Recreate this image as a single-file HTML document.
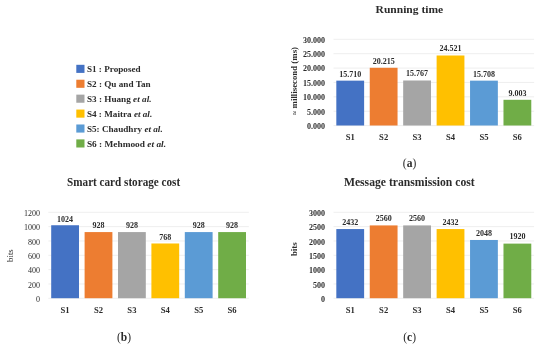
<!DOCTYPE html>
<html><head><meta charset="utf-8"><style>
html,body{margin:0;padding:0;background:#fff;}
svg{display:block;filter:blur(0.3px);}
text{font-family:"Liberation Serif",serif;fill:#2b2b2b;}
</style></head><body>
<svg width="550" height="346" viewBox="0 0 550 346">
<rect width="550" height="346" fill="#fff"/>
<line x1="333.5" y1="125.60" x2="534.1" y2="125.60" stroke="#E8E8E8" stroke-width="0.75"/>
<text x="325.1" y="129.00" text-anchor="end" style="font-size:8px;font-weight:bold;">0.000</text>
<line x1="333.5" y1="111.22" x2="534.1" y2="111.22" stroke="#E8E8E8" stroke-width="0.75"/>
<text x="325.1" y="114.62" text-anchor="end" style="font-size:8px;font-weight:bold;">5.000</text>
<line x1="333.5" y1="96.83" x2="534.1" y2="96.83" stroke="#E8E8E8" stroke-width="0.75"/>
<text x="325.1" y="100.23" text-anchor="end" style="font-size:8px;font-weight:bold;">10.000</text>
<line x1="333.5" y1="82.45" x2="534.1" y2="82.45" stroke="#E8E8E8" stroke-width="0.75"/>
<text x="325.1" y="85.85" text-anchor="end" style="font-size:8px;font-weight:bold;">15.000</text>
<line x1="333.5" y1="68.07" x2="534.1" y2="68.07" stroke="#E8E8E8" stroke-width="0.75"/>
<text x="325.1" y="71.47" text-anchor="end" style="font-size:8px;font-weight:bold;">20.000</text>
<line x1="333.5" y1="53.68" x2="534.1" y2="53.68" stroke="#E8E8E8" stroke-width="0.75"/>
<text x="325.1" y="57.08" text-anchor="end" style="font-size:8px;font-weight:bold;">25.000</text>
<line x1="333.5" y1="39.30" x2="534.1" y2="39.30" stroke="#E8E8E8" stroke-width="0.75"/>
<text x="325.1" y="42.70" text-anchor="end" style="font-size:8px;font-weight:bold;">30.000</text>
<rect x="336.32" y="80.65" width="27.8" height="44.85" fill="#4472C4"/>
<text x="350.22" y="76.65" text-anchor="middle" style="font-size:8px;font-weight:bold;">15.710</text>
<text x="350.22" y="139.60" text-anchor="middle" style="font-size:8.6px;font-weight:bold;">S1</text>
<rect x="369.75" y="67.79" width="27.8" height="57.71" fill="#ED7D31"/>
<text x="383.65" y="63.79" text-anchor="middle" style="font-size:8px;font-weight:bold;">20.215</text>
<text x="383.65" y="139.60" text-anchor="middle" style="font-size:8.6px;font-weight:bold;">S2</text>
<rect x="403.18" y="80.49" width="27.8" height="45.01" fill="#A5A5A5"/>
<text x="417.08" y="76.49" text-anchor="middle" style="font-size:8px;font-weight:bold;">15.767</text>
<text x="417.08" y="139.60" text-anchor="middle" style="font-size:8.6px;font-weight:bold;">S3</text>
<rect x="436.62" y="55.49" width="27.8" height="70.01" fill="#FFC000"/>
<text x="450.52" y="51.49" text-anchor="middle" style="font-size:8px;font-weight:bold;">24.521</text>
<text x="450.52" y="139.60" text-anchor="middle" style="font-size:8.6px;font-weight:bold;">S4</text>
<rect x="470.05" y="80.65" width="27.8" height="44.85" fill="#5B9BD5"/>
<text x="483.95" y="76.65" text-anchor="middle" style="font-size:8px;font-weight:bold;">15.708</text>
<text x="483.95" y="139.60" text-anchor="middle" style="font-size:8.6px;font-weight:bold;">S5</text>
<rect x="503.48" y="99.80" width="27.8" height="25.70" fill="#70AD47"/>
<text x="517.38" y="95.80" text-anchor="middle" style="font-size:8px;font-weight:bold;">9.003</text>
<text x="517.38" y="139.60" text-anchor="middle" style="font-size:8.6px;font-weight:bold;">S6</text>
<line x1="48.4" y1="298.30" x2="248.8" y2="298.30" stroke="#E8E8E8" stroke-width="0.75"/>
<text x="40.0" y="302.00" text-anchor="end" style="font-size:8px;">0</text>
<line x1="48.4" y1="283.97" x2="248.8" y2="283.97" stroke="#E8E8E8" stroke-width="0.75"/>
<text x="40.0" y="287.67" text-anchor="end" style="font-size:8px;">200</text>
<line x1="48.4" y1="269.63" x2="248.8" y2="269.63" stroke="#E8E8E8" stroke-width="0.75"/>
<text x="40.0" y="273.33" text-anchor="end" style="font-size:8px;">400</text>
<line x1="48.4" y1="255.30" x2="248.8" y2="255.30" stroke="#E8E8E8" stroke-width="0.75"/>
<text x="40.0" y="259.00" text-anchor="end" style="font-size:8px;">600</text>
<line x1="48.4" y1="240.97" x2="248.8" y2="240.97" stroke="#E8E8E8" stroke-width="0.75"/>
<text x="40.0" y="244.67" text-anchor="end" style="font-size:8px;">800</text>
<line x1="48.4" y1="226.63" x2="248.8" y2="226.63" stroke="#E8E8E8" stroke-width="0.75"/>
<text x="40.0" y="230.33" text-anchor="end" style="font-size:8px;">1000</text>
<line x1="48.4" y1="212.30" x2="248.8" y2="212.30" stroke="#E8E8E8" stroke-width="0.75"/>
<text x="40.0" y="216.00" text-anchor="end" style="font-size:8px;">1200</text>
<rect x="51.20" y="225.24" width="27.8" height="72.96" fill="#4472C4"/>
<text x="65.10" y="221.64" text-anchor="middle" style="font-size:8px;font-weight:bold;">1024</text>
<text x="65.10" y="312.60" text-anchor="middle" style="font-size:8.6px;font-weight:bold;">S1</text>
<rect x="84.60" y="232.08" width="27.8" height="66.12" fill="#ED7D31"/>
<text x="98.50" y="228.48" text-anchor="middle" style="font-size:8px;font-weight:bold;">928</text>
<text x="98.50" y="312.60" text-anchor="middle" style="font-size:8.6px;font-weight:bold;">S2</text>
<rect x="118.00" y="232.08" width="27.8" height="66.12" fill="#A5A5A5"/>
<text x="131.90" y="228.48" text-anchor="middle" style="font-size:8px;font-weight:bold;">928</text>
<text x="131.90" y="312.60" text-anchor="middle" style="font-size:8.6px;font-weight:bold;">S3</text>
<rect x="151.40" y="243.48" width="27.8" height="54.72" fill="#FFC000"/>
<text x="165.30" y="239.88" text-anchor="middle" style="font-size:8px;font-weight:bold;">768</text>
<text x="165.30" y="312.60" text-anchor="middle" style="font-size:8.6px;font-weight:bold;">S4</text>
<rect x="184.80" y="232.08" width="27.8" height="66.12" fill="#5B9BD5"/>
<text x="198.70" y="228.48" text-anchor="middle" style="font-size:8px;font-weight:bold;">928</text>
<text x="198.70" y="312.60" text-anchor="middle" style="font-size:8.6px;font-weight:bold;">S5</text>
<rect x="218.20" y="232.08" width="27.8" height="66.12" fill="#70AD47"/>
<text x="232.10" y="228.48" text-anchor="middle" style="font-size:8px;font-weight:bold;">928</text>
<text x="232.10" y="312.60" text-anchor="middle" style="font-size:8.6px;font-weight:bold;">S6</text>
<line x1="333.5" y1="298.30" x2="534.1" y2="298.30" stroke="#E8E8E8" stroke-width="0.75"/>
<text x="325.0" y="302.00" text-anchor="end" style="font-size:8px;font-weight:bold;">0</text>
<line x1="333.5" y1="283.97" x2="534.1" y2="283.97" stroke="#E8E8E8" stroke-width="0.75"/>
<text x="325.0" y="287.67" text-anchor="end" style="font-size:8px;font-weight:bold;">500</text>
<line x1="333.5" y1="269.63" x2="534.1" y2="269.63" stroke="#E8E8E8" stroke-width="0.75"/>
<text x="325.0" y="273.33" text-anchor="end" style="font-size:8px;font-weight:bold;">1000</text>
<line x1="333.5" y1="255.30" x2="534.1" y2="255.30" stroke="#E8E8E8" stroke-width="0.75"/>
<text x="325.0" y="259.00" text-anchor="end" style="font-size:8px;font-weight:bold;">1500</text>
<line x1="333.5" y1="240.97" x2="534.1" y2="240.97" stroke="#E8E8E8" stroke-width="0.75"/>
<text x="325.0" y="244.67" text-anchor="end" style="font-size:8px;font-weight:bold;">2000</text>
<line x1="333.5" y1="226.63" x2="534.1" y2="226.63" stroke="#E8E8E8" stroke-width="0.75"/>
<text x="325.0" y="230.33" text-anchor="end" style="font-size:8px;font-weight:bold;">2500</text>
<line x1="333.5" y1="212.30" x2="534.1" y2="212.30" stroke="#E8E8E8" stroke-width="0.75"/>
<text x="325.0" y="216.00" text-anchor="end" style="font-size:8px;font-weight:bold;">3000</text>
<rect x="336.32" y="229.05" width="27.8" height="69.15" fill="#4472C4"/>
<text x="350.22" y="224.65" text-anchor="middle" style="font-size:8px;font-weight:bold;">2432</text>
<text x="350.22" y="312.60" text-anchor="middle" style="font-size:8.6px;font-weight:bold;">S1</text>
<rect x="369.75" y="225.41" width="27.8" height="72.79" fill="#ED7D31"/>
<text x="383.65" y="221.01" text-anchor="middle" style="font-size:8px;font-weight:bold;">2560</text>
<text x="383.65" y="312.60" text-anchor="middle" style="font-size:8.6px;font-weight:bold;">S2</text>
<rect x="403.18" y="225.41" width="27.8" height="72.79" fill="#A5A5A5"/>
<text x="417.08" y="221.01" text-anchor="middle" style="font-size:8px;font-weight:bold;">2560</text>
<text x="417.08" y="312.60" text-anchor="middle" style="font-size:8.6px;font-weight:bold;">S3</text>
<rect x="436.62" y="229.05" width="27.8" height="69.15" fill="#FFC000"/>
<text x="450.52" y="224.65" text-anchor="middle" style="font-size:8px;font-weight:bold;">2432</text>
<text x="450.52" y="312.60" text-anchor="middle" style="font-size:8.6px;font-weight:bold;">S4</text>
<rect x="470.05" y="239.97" width="27.8" height="58.23" fill="#5B9BD5"/>
<text x="483.95" y="235.57" text-anchor="middle" style="font-size:8px;font-weight:bold;">2048</text>
<text x="483.95" y="312.60" text-anchor="middle" style="font-size:8.6px;font-weight:bold;">S5</text>
<rect x="503.48" y="243.61" width="27.8" height="54.59" fill="#70AD47"/>
<text x="517.38" y="239.21" text-anchor="middle" style="font-size:8px;font-weight:bold;">1920</text>
<text x="517.38" y="312.60" text-anchor="middle" style="font-size:8.6px;font-weight:bold;">S6</text>
<text x="409.4" y="12.6" text-anchor="middle" style="font-size:11.4px;font-weight:bold;" textLength="67.7" lengthAdjust="spacingAndGlyphs">Running time</text>
<text x="123.6" y="185.5" text-anchor="middle" style="font-size:11.6px;font-weight:bold;" textLength="113" lengthAdjust="spacingAndGlyphs">Smart card storage cost</text>
<text x="409.3" y="185.5" text-anchor="middle" style="font-size:11.6px;font-weight:bold;" textLength="130.8" lengthAdjust="spacingAndGlyphs">Message transmission cost</text>
<text x="409.5" y="167.3" text-anchor="middle" style="font-size:11.5px">(<tspan style="font-weight:bold">a</tspan>)</text>
<text x="124" y="340.5" text-anchor="middle" style="font-size:11.5px">(<tspan style="font-weight:bold">b</tspan>)</text>
<text x="409.6" y="340.5" text-anchor="middle" style="font-size:11.5px">(<tspan style="font-weight:bold">c</tspan>)</text>
<text transform="translate(297.4,108.4) rotate(-90)" text-anchor="start" style="font-size:8.8px;font-weight:bold" textLength="61.4" lengthAdjust="spacingAndGlyphs">millisecond (ms)</text>
<text transform="translate(296.6,114.9) rotate(-90)" text-anchor="start" style="font-size:7px;font-weight:bold">≈</text>
<text transform="translate(13.3,255.6) rotate(-90)" text-anchor="middle" style="font-size:8.3px" textLength="12.8" lengthAdjust="spacingAndGlyphs">bits</text>
<text transform="translate(296.9,249.2) rotate(-90)" text-anchor="middle" style="font-size:8.9px;font-weight:bold">bits</text>
<rect x="76.3" y="64.80" width="8.2" height="8.1" fill="#4472C4"/>
<text x="86.9" y="72.00" text-anchor="start" style="font-size:8.8px;font-weight:bold;" textLength="53.7" lengthAdjust="spacingAndGlyphs">S1 : Proposed</text>
<rect x="76.3" y="79.72" width="8.2" height="8.1" fill="#ED7D31"/>
<text x="86.9" y="86.90" text-anchor="start" style="font-size:8.8px;font-weight:bold;" textLength="63.8" lengthAdjust="spacingAndGlyphs">S2 : Qu and Tan</text>
<rect x="76.3" y="94.64" width="8.2" height="8.1" fill="#A5A5A5"/>
<text x="86.9" y="101.80" text-anchor="start" style="font-size:8.8px;font-weight:bold;" textLength="64.6" lengthAdjust="spacingAndGlyphs">S3 : Huang <tspan style="font-style:italic">et al.</tspan></text>
<rect x="76.3" y="109.56" width="8.2" height="8.1" fill="#FFC000"/>
<text x="86.9" y="116.70" text-anchor="start" style="font-size:8.8px;font-weight:bold;" textLength="65.3" lengthAdjust="spacingAndGlyphs">S4 : Maitra <tspan style="font-style:italic">et al.</tspan></text>
<rect x="76.3" y="124.48" width="8.2" height="8.1" fill="#5B9BD5"/>
<text x="86.9" y="131.60" text-anchor="start" style="font-size:8.8px;font-weight:bold;" textLength="75.8" lengthAdjust="spacingAndGlyphs">S5: Chaudhry <tspan style="font-style:italic">et al.</tspan></text>
<rect x="76.3" y="139.40" width="8.2" height="8.1" fill="#70AD47"/>
<text x="86.9" y="146.50" text-anchor="start" style="font-size:8.8px;font-weight:bold;" textLength="79.1" lengthAdjust="spacingAndGlyphs">S6 : Mehmood <tspan style="font-style:italic">et al.</tspan></text>
</svg>
</body></html>
